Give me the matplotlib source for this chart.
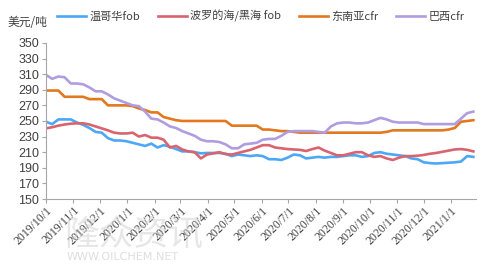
import matplotlib
matplotlib.use("Agg")
import matplotlib.pyplot as plt
import matplotlib.dates as mdates
import pandas as pd

plt.rcParams['font.family'] = ['Noto Sans CJK SC', 'DejaVu Sans']

# weekly prices, USD/t
dates = pd.date_range("2019-10-01", periods=70, freq="7D")
vancouver = [249, 246, 252, 252, 252, 248, 245, 241, 236, 235,
             228, 225, 225, 224, 222, 220, 218, 221, 216, 219,
             217, 214, 211, 211, 210, 208.5, 209, 209, 209, 208,
             205, 207, 206, 205, 206, 205, 201, 201, 200, 203,
             207, 206, 202, 203, 204, 203, 204, 204, 205, 206,
             206, 204, 205, 209, 210, 208, 207, 206, 205, 202,
             201, 197, 196, 195.5, 196, 196.5, 197, 198, 205, 204]
baltic = [240.5, 242, 244, 245.5, 246.5, 247, 247, 245.5, 243, 240.5,
          238, 235, 234, 234, 235, 230, 232, 228.6, 228.6, 226,
          216, 218, 213.5, 211, 210, 202, 207, 208.5, 210, 207.5,
          207, 209, 211, 213, 216, 219, 219, 216, 215, 214,
          213.5, 213, 211.5, 214, 216, 212, 209, 206, 206, 208,
          210, 210, 206, 204, 205, 202, 200, 203, 205, 205,
          205.5, 206.5, 208, 209, 210.5, 212, 213.5, 214, 213, 211]
seasia = [289, 289, 289, 281, 281, 281, 281, 278, 278, 278,
          270, 270, 270, 270, 269, 266, 264, 261, 261, 255,
          253, 251, 250, 250, 250, 250, 250, 250, 250, 250,
          244, 244, 244, 244, 244, 239, 239, 238, 237, 237,
          236, 235, 235, 235, 235, 235, 235, 235, 235, 235,
          235, 235, 235, 235, 235, 236, 238, 238, 238, 238,
          238, 238, 238, 238, 238, 239, 241, 249, 250, 251]
brazil = [309, 304, 307, 306, 298, 298, 297, 293, 288, 288,
          284, 279, 276, 273, 270, 269, 262, 253, 252, 248,
          243, 241, 237, 234, 231, 226, 224, 224, 223, 220,
          215, 215, 220, 221, 222, 226, 227, 227, 231, 236,
          237, 237, 237, 237, 236, 235, 243, 247, 248, 248,
          247, 247, 248, 251, 254, 252, 249, 248, 248, 248,
          248, 246, 246, 246, 246, 246, 246, 253, 260, 262]

labels = ["温哥华fob", "波罗的海/黑海 fob", "东南亚cfr", "巴西cfr"]
colors = ["#4da7f5", "#d8646f", "#e2781f", "#b09de0"]

fig = plt.figure(figsize=(4.92, 2.65), dpi=100)
ax = fig.add_axes([0.0935, 0.249, 0.874, 0.589])

for y, lab, c in zip([vancouver, baltic, seasia, brazil], labels, colors):
    ax.plot(dates, y, color=c, lw=1.9, label=lab)

ax.set_ylim(150, 350)
ax.set_yticks(range(150, 351, 20))
ax.set_xlim(pd.Timestamp("2019-10-01"), pd.Timestamp("2021-01-29"))
ax.xaxis.set_major_locator(mdates.MonthLocator())
ax.xaxis.set_major_formatter(plt.FuncFormatter(
    lambda v, p: "{0.year}/{0.month}/{0.day}".format(mdates.num2date(v))))

for s in ["top", "right"]:
    ax.spines[s].set_visible(False)
for s in ["left", "bottom"]:
    ax.spines[s].set_color("#a6a6a6")
    ax.spines[s].set_linewidth(0.8)
ax.tick_params(axis="both", colors="#a6a6a6", length=3, width=0.8)
ax.tick_params(axis="y", labelcolor="#404040", labelsize=9, pad=2)
ax.tick_params(axis="x", labelcolor="#404040", labelsize=8.5, pad=1)
for t in ax.get_yticklabels():
    t.set_family("Liberation Sans")
for t in ax.get_xticklabels():
    t.set_family("Liberation Serif")
    t.set_rotation(45)
    t.set_ha("right")
    t.set_rotation_mode("anchor")

fig.text(0.016, 0.9, "美元/吨", fontsize=8.5, color="#404040")

ax.legend(loc="lower center", bbox_to_anchor=(0.5, 1.07), ncol=4, frameon=False,
          fontsize=8, handlelength=2.6, columnspacing=1.6, handletextpad=0.3,
          labelcolor="#404040")

# watermark
fig.text(0.13, 0.075, "隆众资讯", fontsize=25, color="#d0d0d0", alpha=0.5, zorder=0)
fig.text(0.135, 0.02, "WWW.OILCHEM.NET", fontsize=8, color="#c8c8c8", alpha=0.6,
         family="DejaVu Sans", zorder=0)

fig.savefig("out.png", dpi=100)
